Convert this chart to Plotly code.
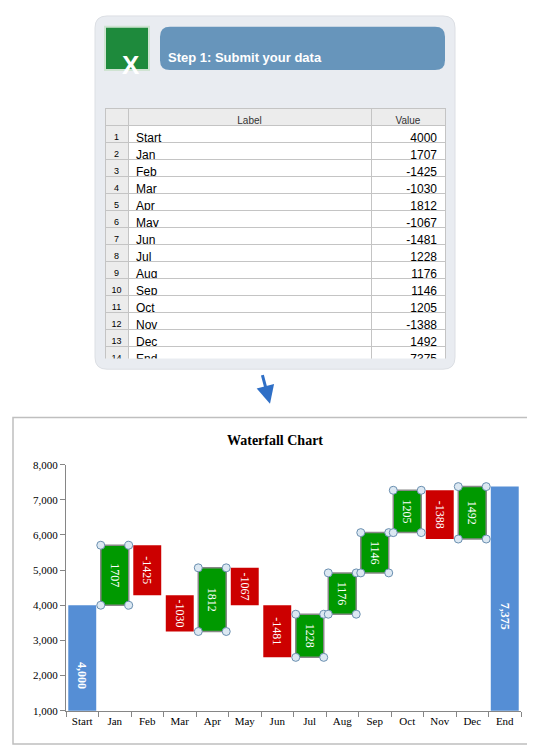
import plotly.graph_objects as go

W, H = 535, 748

labels = ['Start', 'Jan', 'Feb', 'Mar', 'Apr', 'May', 'Jun', 'Jul', 'Aug', 'Sep', 'Oct', 'Nov', 'Dec', 'End']
values = [4000, 1707, -1425, -1030, 1812, -1067, -1481, 1228, 1176, 1146, 1205, -1388, 1492, 7375]
y_ticks = [1000, 2000, 3000, 4000, 5000, 6000, 7000, 8000]


def px(x):
    return x / W


def py(y):
    return 1 - y / H


def rrect(x0, y0, x1, y1, r):
    # rounded rectangle path, given in pixels, written in paper coords
    pts = [
        f"M {px(x0 + r)},{py(y0)}", f"L {px(x1 - r)},{py(y0)}",
        f"Q {px(x1)},{py(y0)} {px(x1)},{py(y0 + r)}", f"L {px(x1)},{py(y1 - r)}",
        f"Q {px(x1)},{py(y1)} {px(x1 - r)},{py(y1)}", f"L {px(x0 + r)},{py(y1)}",
        f"Q {px(x0)},{py(y1)} {px(x0)},{py(y1 - r)}", f"L {px(x0)},{py(y0 + r)}",
        f"Q {px(x0)},{py(y0)} {px(x0 + r)},{py(y0)}", "Z",
    ]
    return " ".join(pts)


fig = go.Figure()

# ---- data table on top
rows = [str(i + 1) for i in range(len(labels))]
fig.add_trace(go.Table(
    domain=dict(x=[px(97), px(437)], y=[py(351), py(96)]),
    columnwidth=[23, 243, 74],
    header=dict(values=['', 'Label', 'Value'], fill_color='#ECECEC', line_color='#C4C4C4',
                align='center', height=17, font=dict(family='Liberation Sans', size=10, color='#333')),
    cells=dict(values=[rows, labels, values],
               fill_color=[['#ECECEC'] * 14, ['white'] * 14, ['white'] * 14],
               line_color='#C4C4C4', align=['center', 'left', 'right'], height=17,
               font=dict(family='Liberation Sans', size=[9, 12, 12], color='black')),
))

# ---- waterfall
measure = ['absolute'] + ['relative'] * 12 + ['total']
text = [f"<b>{v:,}</b>" if m != 'relative' else str(v) for v, m in zip(values, measure)]
fig.add_trace(go.Waterfall(
    x=labels, y=values, measure=measure, text=text, textposition='inside',
    insidetextanchor='middle', width=0.86,
    textfont=dict(family='Liberation Serif', size=12, color='white'),
    increasing=dict(marker=dict(color='#009900', line=dict(color='#888888', width=1.5))),
    decreasing=dict(marker=dict(color='#CC0000')),
    totals=dict(marker=dict(color='#558ED5')),
    connector=dict(visible=False), showlegend=False, hoverinfo='x+y',
))

shapes = [
    dict(type='path', path=rrect(87, 2, 447, 361, 12), xref='paper', yref='paper',
         fillcolor='#E9ECF1', line=dict(color='#DCDFE4', width=1), layer='below'),
    dict(type='path', path=rrect(152, 13, 437, 57, 10), xref='paper', yref='paper',
         fillcolor='#6795BB', line=dict(width=0), layer='below'),
    dict(type='rect', xref='paper', yref='paper', x0=px(97), x1=px(141), y0=py(13), y1=py(57),
         fillcolor='#1E8A3C', line=dict(color='#CFE3D2', width=2), layer='below'),
    dict(type='rect', xref='paper', yref='paper', x0=px(5), x1=px(528), y0=py(410), y1=py(742),
         fillcolor='white', line=dict(color='#BFBFBF', width=1.5), layer='below'),
]

# selection handles on the rising bars
cum = 0
for i, (v, m) in enumerate(zip(values, measure)):
    if m == 'relative' and v > 0:
        for xx in (i - 0.43, i + 0.43):
            for yy in (cum, cum + v):
                shapes.append(dict(type='circle', xref='x', yref='y', xsizemode='pixel', ysizemode='pixel',
                                   xanchor=xx, yanchor=yy, x0=-4, x1=4, y0=-4, y1=4,
                                   fillcolor='#DCE8F2', line=dict(color='#6A8FB0', width=1)))
    if m == 'relative':
        cum += v
    else:
        cum = v

annotations = [
    dict(text='<b>Step 1: Submit your data</b>', x=px(158), y=py(35), xref='paper', yref='paper',
         xanchor='left', showarrow=False, font=dict(family='Liberation Sans', size=13, color='white')),
    dict(text='<b>X</b>', x=px(112), y=py(35), xref='paper', yref='paper', showarrow=False,
         font=dict(family='Liberation Sans', size=26, color='white')),
    dict(text='<b>Waterfall Chart</b>', x=px(267), y=py(433), xref='paper', yref='paper', showarrow=False,
         font=dict(family='Liberation Serif', size=14, color='black')),
    dict(x=px(262), y=py(396), ax=-8, ay=-30, xref='paper', yref='paper',
         text='', showarrow=True, arrowhead=2, arrowsize=1.2, arrowwidth=3, arrowcolor='#2F6FC6'),
]

fig.update_layout(
    width=W, height=H, margin=dict(l=0, r=0, t=0, b=0),
    paper_bgcolor='white', plot_bgcolor='white',
    shapes=shapes, annotations=annotations,
    xaxis=dict(domain=[px(58), px(513)], showline=True, linecolor='#868686', ticks='outside',
               tickson='boundaries', tickcolor='#868686', ticklen=5,
               tickfont=dict(family='Liberation Serif', size=11, color='black'), fixedrange=True),
    yaxis=dict(domain=[py(708), py(458)], range=[1000, 8000], tickvals=y_ticks, tickformat=',',
               showline=True, linecolor='#868686', ticks='outside', tickcolor='#868686', ticklen=5,
               showgrid=False, zeroline=False,
               tickfont=dict(family='Liberation Serif', size=11, color='black')),
)

fig.write_html("out.html")
